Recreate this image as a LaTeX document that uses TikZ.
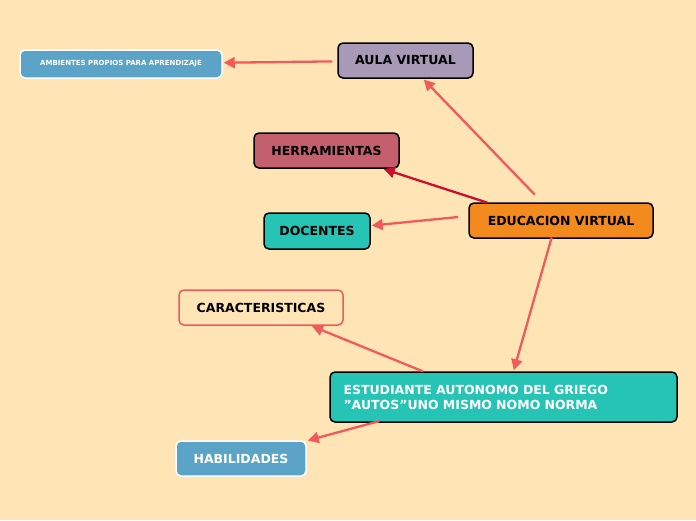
\documentclass[tikz,border=0pt]{standalone}
\usepackage{fontspec}
\setmainfont{DejaVu Sans}
\usetikzlibrary{arrows.meta}
\definecolor{bg}{HTML}{FFE5B6}
\definecolor{ln}{HTML}{F05A5A}
\definecolor{dk}{HTML}{C8102E}
\definecolor{bl}{HTML}{5BA4C8}
\definecolor{li}{HTML}{A899B6}
\definecolor{ro}{HTML}{C4606E}
\definecolor{tq}{HTML}{25C4B5}
\definecolor{or}{HTML}{F28A1E}
\tikzset{
 box/.style={draw=black, line width=1.5pt, rounded corners=5pt, font=\bfseries\fontsize{12.5}{15}\selectfont, inner sep=0pt},
 wbox/.style={box, draw=white, text=white},
 conn/.style={draw=ln, line width=2.3pt, -{Triangle[length=11pt,width=11pt]}, shorten <=5pt, shorten >=1pt}
}
\begin{document}
\begin{tikzpicture}[x=1pt,y=-1pt]
\fill[bg] (0,0) rectangle (696,520);
\useasboundingbox (0,0) rectangle (696,520);
\node[box, fill=li, minimum width=135, minimum height=35] (aula) at (405.5,60.5) {AULA VIRTUAL};
\node[wbox, fill=bl, minimum width=202, minimum height=28, font=\bfseries\fontsize{7}{8}\selectfont] (amb) at (121,64) {AMBIENTES PROPIOS PARA APRENDIZAJE};
\node[box, fill=ro, minimum width=145, minimum height=35] (her) at (326.5,150.5) {HERRAMIENTAS};
\node[box, fill=tq, minimum width=106, minimum height=36] (doc) at (317,231) {DOCENTES};
\node[box, fill=or, minimum width=184, minimum height=35] (edu) at (561,220.5) {EDUCACION VIRTUAL};
\node[box, draw=ln, fill=bg, minimum width=164, minimum height=35] (car) at (261,307.5) {CARACTERISTICAS};
\node[wbox, draw=black, fill=tq, minimum width=347, minimum height=50, text width=320, align=left] (est) at (503.5,397) {ESTUDIANTE AUTONOMO DEL GRIEGO\\\symbol{34}AUTOS\symbol{34}UNO MISMO NOMO NORMA};
\node[wbox, fill=bl, minimum width=130, minimum height=35] (hab) at (241,458.5) {HABILIDADES};
\draw[conn] (aula) -- (amb);
\draw[conn] (edu.north west)++(70,-4) coordinate (e1) (e1) -- (aula);
\draw[conn, draw=dk] ([xshift=24pt,yshift=-2pt]edu.north west) -- (her);
\draw[conn] ([xshift=-5pt,yshift=4pt]edu.west) -- (doc);
\draw[conn] ([xshift=-8pt,yshift=6pt]edu.south) -- ([xshift=10pt]est.north);
\draw[conn] ([xshift=-76pt,yshift=-2pt]est.north) -- ([xshift=50pt]car.south);
\draw[conn] ([xshift=55pt,yshift=3pt]est.south west) -- (hab);
\end{tikzpicture}
\end{document}
